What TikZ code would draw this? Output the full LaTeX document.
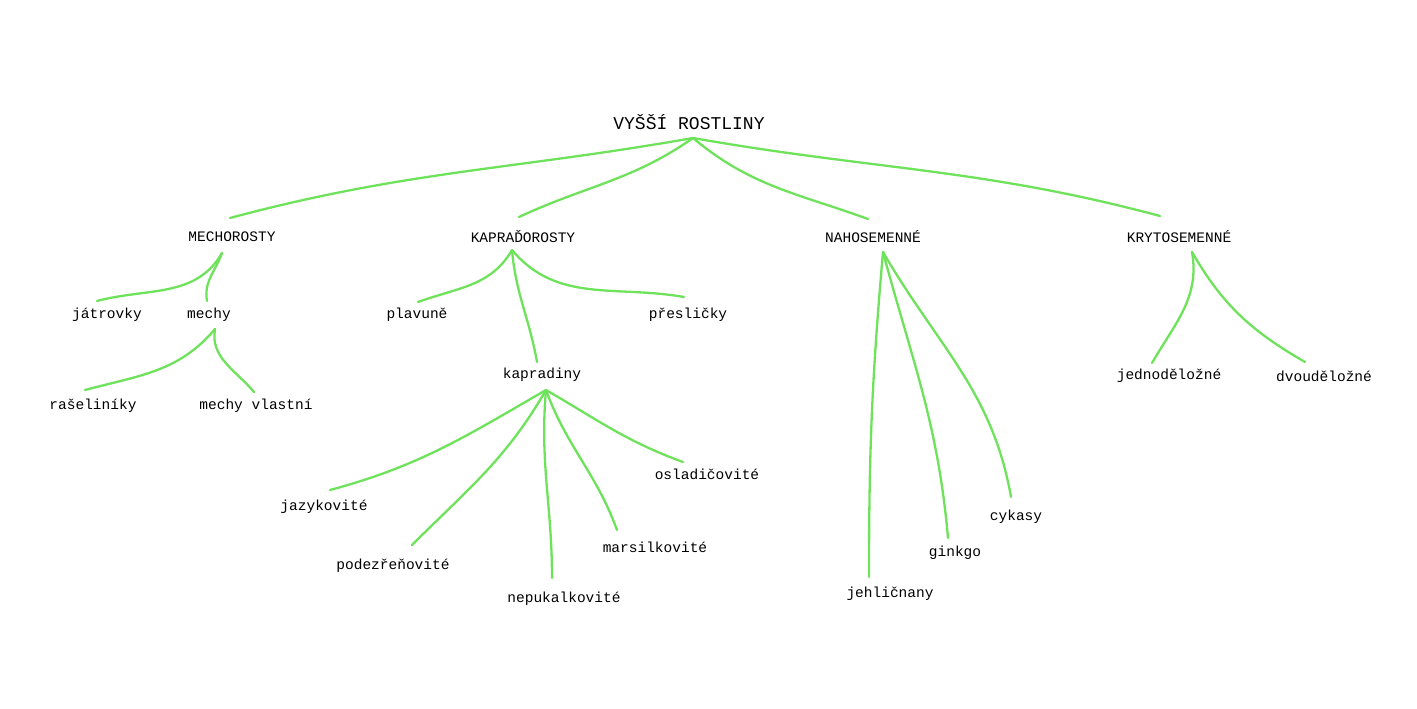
\documentclass[tikz,border=0pt]{standalone}
\usepackage{fontspec}
\setmainfont{Liberation Mono}
\begin{document}
\begin{tikzpicture}[x=1pt,y=-1pt,
  lbl/.style={font=\fontsize{14.5}{16}\selectfont, inner sep=1pt},
  edge/.style={draw={rgb,255:red,110;green,226;blue,90}, line width=2.3pt, line cap=round}]
\useasboundingbox (0,0) rectangle (1417,709);
\node[lbl,font=\fontsize{18}{20}\selectfont] (root) at (689,122) {VYŠŠÍ ROSTLINY};
\node[lbl] (mech) at (232,237) {MECHOROSTY};
\node[lbl] (kapr) at (523,237) {KAPRAĎOROSTY};
\node[lbl] (naho) at (873,237) {NAHOSEMENNÉ};
\node[lbl] (kryt) at (1179,237) {KRYTOSEMENNÉ};
\node[lbl] (jatr) at (107,315) {játrovky};
\node[lbl] (mechy) at (209,315) {mechy};
\node[lbl] (rase) at (93,406) {rašeliníky};
\node[lbl] (mvl) at (256,406) {mechy vlastní};
\node[lbl] (plav) at (417,315) {plavuně};
\node[lbl] (pres) at (688,315) {přesličky};
\node[lbl] (kapd) at (542,375) {kapradiny};
\node[lbl] (jazy) at (324,507) {jazykovité};
\node[lbl] (pode) at (393,566) {podezřeňovité};
\node[lbl] (nepu) at (564,599) {nepukalkovité};
\node[lbl] (mars) at (655,547) {marsilkovité};
\node[lbl] (osla) at (707,474) {osladičovité};
\node[lbl] (jehl) at (890,594) {jehličnany};
\node[lbl] (gink) at (955,553) {ginkgo};
\node[lbl] (cyka) at (1016,517) {cykasy};
\node[lbl] (jedn) at (1169,376) {jednoděložné};
\node[lbl] (dvou) at (1324,376) {dvouděložné};
% anchors
\coordinate (aR) at (693,138);
\coordinate (eMe) at (230,218); \coordinate (eKa) at (519,217);
\coordinate (eNa) at (868,219); \coordinate (eKr) at (1160,216);
\coordinate (aMe) at (222,253); \coordinate (eJa) at (97,301); \coordinate (eMy) at (207,301);
\coordinate (aMy) at (215,329); \coordinate (eRa) at (85,390); \coordinate (eMv) at (254,392);
\coordinate (aKa) at (512,250); \coordinate (ePl) at (418,302); \coordinate (ePr) at (684,297); \coordinate (eKd) at (537,362);
\coordinate (aKd) at (546,390); \coordinate (eJz) at (330,490); \coordinate (ePo) at (412,545);
\coordinate (eNe) at (552,578); \coordinate (eMa) at (617,530); \coordinate (eOs) at (683,462);
\coordinate (aNa) at (883,252); \coordinate (eJe) at (869,577); \coordinate (eGi) at (948,538); \coordinate (eCy) at (1011,497);
\coordinate (aKr) at (1192,252); \coordinate (eJd) at (1152,363); \coordinate (eDv) at (1305,362);
\draw[edge] (aR) to[out=190,in=15] (eMe);
\draw[edge] (aR) to[out=215,in=25] (eKa);
\draw[edge] (aR) to[out=-40,in=160] (eNa);
\draw[edge] (aR) to[out=-10,in=165] (eKr);
\draw[edge] (aMe) to[out=-120,in=15] (eJa);
\draw[edge] (aMe) to[out=-110,in=100] (eMy);
\draw[edge] (aMy) to[out=-130,in=15] (eRa);
\draw[edge] (aMy) to[out=-100,in=130] (eMv);
\draw[edge] (aKa) to[out=-120,in=20] (ePl);
\draw[edge] (aKa) to[out=-50,in=170] (ePr);
\draw[edge] (aKa) to[out=-85,in=100] (eKd);
\draw[edge] (aKd) to[out=-150,in=15] (eJz);
\draw[edge] (aKd) to[out=-120,in=45] (ePo);
\draw[edge] (aKd) to[out=-95,in=90] (eNe);
\draw[edge] (aKd) to[out=-70,in=110] (eMa);
\draw[edge] (aKd) to[out=-30,in=160] (eOs);
\draw[edge] (aNa) to[out=-95,in=90] (eJe);
\draw[edge] (aNa) to[out=-75,in=95] (eGi);
\draw[edge] (aNa) to[out=-60,in=100] (eCy);
\draw[edge] (aKr) to[out=-80,in=60] (eJd);
\draw[edge] (aKr) to[out=-60,in=150] (eDv);
\end{tikzpicture}
\end{document}
